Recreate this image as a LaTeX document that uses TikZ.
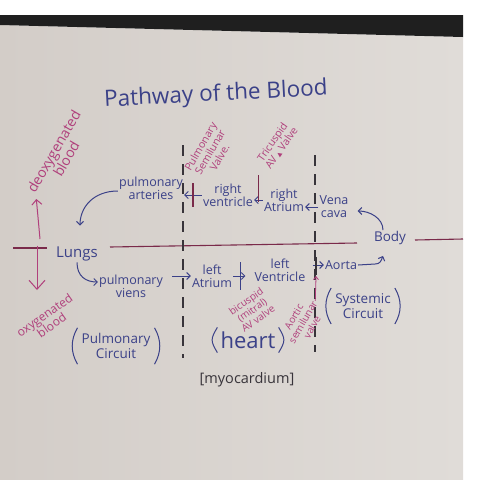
\documentclass[tikz,border=0pt]{standalone}
\usepackage{fontspec}
\setmainfont{Open Sans}
\newfontfamily\symfont{DejaVu Sans}
\usetikzlibrary{arrows.meta}
\definecolor{ink}{HTML}{3B4188}
\definecolor{pinkink}{HTML}{B0407C}
\definecolor{maroon}{HTML}{7A2A4A}
\definecolor{pencil}{HTML}{38343A}
\definecolor{paperL}{HTML}{D3CDC8}
\definecolor{paperR}{HTML}{E0DCD8}

\begin{document}
\begin{tikzpicture}[x=1pt,y=-1pt,
  word/.style={text=ink,font=\fontsize{12.5}{13}\selectfont,align=center,inner sep=1pt},
  note/.style={text=pinkink,font=\fontsize{10.5}{11}\selectfont,align=center,inner sep=1pt},
  flow/.style={draw=ink,line width=1pt,-{Straight Barb[length=3.5pt,width=7pt]}},
  pinkflow/.style={draw=pinkink,line width=1pt,-{Straight Barb[length=5pt,width=10pt]}},
  paren/.style={draw=ink,line width=1pt},
  valvemark/.style={draw=#1,line width=1.5pt},
  valvemark/.default=maroon,
  divider/.style={draw=pencil,line width=1.2pt,dash pattern=on 11pt off 8pt},
  midline/.style={draw=maroon,line width=1.1pt}]
  \useasboundingbox (0,0) rectangle (480,480);
  % photo of the sheet
  \fill[white] (0,0) rectangle (480,480);
  \shade[left color=paperL,right color=paperR] (0,25) -- (463,37) -- (463,480) -- (0,480) -- cycle;
  \fill[black!88] (0,15) -- (463,15) -- (463,37) -- (0,25) -- cycle;

  \node[text=ink,font=\fontsize{22.5}{22.5}\selectfont,rotate=3] (title) at (216,95) {Pathway of the Blood};

  % dividers
  \draw[midline] (13,248) -- (47,248);
  \draw[midline] (110,247) -- (357,243);
  \draw[midline] (415,240) -- (463,239);
  \draw[divider] (183,145) -- (183,358);
  \draw[divider] (315,155) -- (315,352);

  % top row (deoxygenated side)
  \node[word] (pulmart) at (151,188) {pulmonary\\arteries};
  \node[word] (rventricle) at (228,195) {right\\ventricle};
  \node[word] (ratrium) at (284,200) {right\\Atrium};
  \node[word] (venacava) at (334,207) {Vena\\cava};
  \node[word,font=\fontsize{13.5}{13.5}\selectfont] (body) at (390,238) {Body};
  \node[word,font=\fontsize{15}{15}\selectfont] (lungs) at (77,254) {Lungs};

  % bottom row (oxygenated side)
  \node[word] (pulmviens) at (131,286) {pulmonary\\viens};
  \node[word] (latrium) at (212,276) {left\\Atrium};
  \node[word] (lventricle) at (280,270) {left\\Ventricle};
  \node[word] (aorta) at (341,265) {Aorta};

  % valves
  \node[note,rotate=60] (psvalve) at (210,152) {Pulmonary\\Semilunar\\Valve.};
  \node[note,rotate=55] (tricuspid) at (277,145) {Tricuspid\\AV {\symfont\fontsize{6}{6}\selectfont▲} Valve};
  \node[note,font=\fontsize{10}{10.5}\selectfont,rotate=35] (bicuspid) at (252,310) {bicuspid\\(mitral)\\AV valve};
  \node[note,font=\fontsize{10}{10.5}\selectfont,rotate=60] (aorticvalve) at (303,322) {Aortic\\semilunar\\valve};
  \node[note,font=\fontsize{14}{14.5}\selectfont,rotate=60] (deoxy) at (60,155) {deoxygenated\\blood};
  \node[note,font=\fontsize{12}{12.5}\selectfont,rotate=35] (oxy) at (48,320) {oxygenated\\blood};

  % circuits
  \node[word,font=\fontsize{13.5}{15.5}\selectfont,inner xsep=4pt,inner ysep=5pt] (pulmcirc) at (116,346) {Pulmonary\\Circuit};
  \draw[paren] (pulmcirc.north west) .. controls +(-7,12) and +(-7,-12) .. (pulmcirc.south west);
  \draw[paren] (pulmcirc.north east) .. controls +(7,12) and +(7,-12) .. (pulmcirc.south east);
  \node[word,font=\fontsize{22}{22}\selectfont,inner xsep=3pt,inner ysep=4pt] (heart) at (248,340) {heart};
  \draw[paren] (heart.north west) .. controls +(-7,12) and +(-7,-12) .. (heart.south west);
  \draw[paren] (heart.north east) .. controls +(7,12) and +(7,-12) .. (heart.south east);
  \node[word,font=\fontsize{13.5}{15.5}\selectfont,inner xsep=4pt,inner ysep=5pt] (syscirc) at (363,306) {Systemic\\Circuit};
  \draw[paren] (syscirc.north west) .. controls +(-7,12) and +(-7,-12) .. (syscirc.south west);
  \draw[paren] (syscirc.north east) .. controls +(7,12) and +(7,-12) .. (syscirc.south east);
  \node[text=pencil,font=\fontsize{14.5}{14.5}\selectfont] (myocard) at (247,380) {[myocardium]};

  % flow through the heart
  \draw[flow] (rventricle.west) -- (rventricle.west -| pulmart.east) coordinate[pos=0.5] (v1);
  \draw[valvemark] ([yshift=12pt]v1) -- ([yshift=-12pt]v1);
  \draw[flow] (ratrium.west) -- (ratrium.west -| rventricle.east) coordinate[pos=0.5] (v2);
  \draw[valvemark] ([yshift=25pt]v2) -- ([yshift=-2pt]v2);
  \draw[flow] (venacava.west) -- (venacava.west -| ratrium.east);
  \draw[flow] ([xshift=-7pt]body.north) .. controls +(0,-12) and +(12,0) .. ([xshift=8pt,yshift=-4pt]venacava.east);
  \draw[flow] ([yshift=-3pt]pulmart.west) .. controls +(-25,0) and +(0,-18) .. ([xshift=3pt,yshift=20pt]lungs.north);
  \draw[flow] (lungs.south) .. controls +(0,14) and +(-12,0) .. ([yshift=4pt]pulmviens.west);
  \draw[flow,shorten <=8pt] (pulmviens.east |- latrium.west) -- (latrium.west);
  \draw[flow,shorten >=8pt] (latrium.east) -- (latrium.east -| lventricle.west) coordinate[pos=0.35] (v3);
  \draw[valvemark=ink] ([yshift=14pt]v3) -- ([yshift=-14pt]v3);
  \draw[flow,shorten <=6pt] (lventricle.east |- aorta.west) -- (aorta.west) coordinate[pos=0.55] (v4);
  \draw[valvemark=pencil] ([yshift=8pt]v4) -- ([yshift=-10pt]v4);
  \draw[flow] (aorta.east) -- ++(17,-1) .. controls +(5,0) and +(-2,5) .. ([xshift=-7pt,yshift=-10pt]body.south);

  % blood labels
  \coordinate (upfrom) at (40,239);
  \coordinate (downto) at (37,290);
  \draw[pinkflow] (upfrom) -- ([yshift=-3pt]deoxy.west);
  \draw[pinkflow,-{Straight Barb[length=9pt,width=16pt]}] (downto |- lungs.north) -- (downto);
  \draw[pinkflow,line width=0.8pt,-{Straight Barb[length=3pt,width=5pt]}] (aorticvalve.east) -- ([yshift=-11pt]v4);
\end{tikzpicture}
\end{document}
